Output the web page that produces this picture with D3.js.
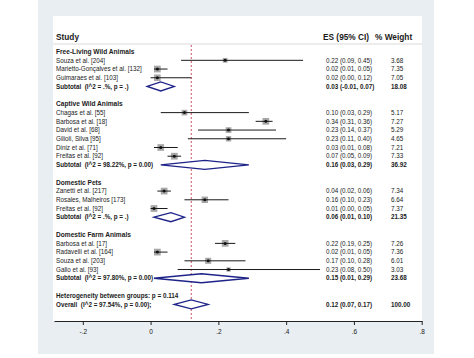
<!DOCTYPE html>
<html>
<head>
<meta charset="utf-8">
<script src="https://cdn.jsdelivr.net/npm/d3@7"></script>
<style>
  body { margin: 0; background: #fff; }
  svg text { font-family: 'Liberation Sans', Arial, Helvetica, sans-serif; fill: #1a1a1a; }
  .axis path, .axis line { stroke: #222; }
  .axis text { font-size: 6.5px; }
</style>
</head>
<body>
<div id="chart"></div>
<script>
// group headings
let groups = ['Free-Living Wild Animals', 'Captive Wild Animals', 'Domestic Pets', 'Domestic Farm Animals'];

// individual studies
let studies = [
  'Souza et al. [204]', 'Marietto-Gonçalves et al. [132]', 'Guimaraes et al. [103]',
  'Chagas et al. [55]', 'Barbosa et al. [18]', 'David et al. [68]', 'Gilioli, Silva [95]', 'Diniz et al. [71]', 'Freitas et al. [92]',
  'Zanetti et al. [217]', 'Rosales, Malheiros [173]', 'Freitas et al. [92]',
  'Barbosa et al. [17]', 'Radavelli et al. [164]', 'Souza et al. [203]', 'Gallo et al. [93]'
];
let studyGroup = [0, 0, 0, 1, 1, 1, 1, 1, 1, 2, 2, 2, 3, 3, 3, 3];
let es     = [0.22, 0.02, 0.02, 0.10, 0.34, 0.23, 0.23, 0.03, 0.07, 0.04, 0.16, 0.01, 0.22, 0.02, 0.17, 0.23];
let lo     = [0.09, 0.01, 0.00, 0.03, 0.31, 0.14, 0.11, 0.01, 0.05, 0.02, 0.10, 0.00, 0.19, 0.01, 0.10, 0.08];
let hi     = [0.45, 0.05, 0.12, 0.29, 0.36, 0.37, 0.40, 0.08, 0.09, 0.06, 0.23, 0.05, 0.25, 0.05, 0.28, 0.50];
let weight = [3.68, 7.35, 7.05, 5.17, 7.27, 5.29, 4.65, 7.21, 7.33, 7.34, 6.64, 7.37, 7.26, 7.36, 6.01, 3.03];

// subtotals per group
let subLabels = ['Subtotal  (I^2 = .%, p = .)', 'Subtotal  (I^2 = 98.22%, p = 0.00)', 'Subtotal  (I^2 = .%, p = .)', 'Subtotal  (I^2 = 97.80%, p = 0.00)'];
let subEs     = [0.03, 0.16, 0.06, 0.15];
let subLo     = [-0.01, 0.03, 0.01, 0.01];
let subHi     = [0.07, 0.29, 0.10, 0.29];
let subWeight = [18.08, 36.92, 21.35, 23.68];

// overall
let hetLabel = 'Heterogeneity between groups: p = 0.114';
let overallLabel = 'Overall  (I^2 = 97.54%, p = 0.00);';
let overallEs = [0.12, 0.07, 0.17];
let overallWeight = 100.00;

let xTicks = [-0.2, 0, 0.2, 0.4, 0.6, 0.8];

let width = 474, height = 358;

let svg = d3.select('#chart')
  .append('svg')
    .attr('width', width)
    .attr('height', height);

// graph region + plot region
svg.append('rect').attr('x', 38).attr('y', 0).attr('width', 396).attr('height', 354).attr('fill', '#e9eef2');
svg.append('rect').attr('x', 53).attr('y', 16).attr('width', 369).attr('height', 305).attr('fill', '#fff');

// build rows
let rows = [];
let r = 0;
groups.forEach(function (g, gi) {
  rows.push({ type: 'group', label: g, row: r++ });
  studies.forEach(function (s, i) {
    if (studyGroup[i] !== gi) return;
    rows.push({ type: 'study', label: s, es: es[i], lo: lo[i], hi: hi[i], w: weight[i], row: r++ });
  });
  rows.push({ type: 'sub', label: subLabels[gi], es: subEs[gi], lo: subLo[gi], hi: subHi[gi], w: subWeight[gi], row: r++ });
  r++;
});
rows.push({ type: 'het', label: hetLabel, row: r++ });
rows.push({ type: 'overall', label: overallLabel, es: overallEs[0], lo: overallEs[1], hi: overallEs[2], w: overallWeight, row: r++ });

let X = d3.scaleLinear().domain([-0.285, 0.8]).range([54, 421.7]);
let Y = d3.scaleLinear().domain([0, 29]).range([51.6, 304.4]);
let box = d3.scaleSqrt().domain([0, 7.27]).range([0, 6.7]);

// headers
svg.append('text').attr('x', 56).attr('y', 40).attr('font-size', '8.3px').attr('font-weight', 'bold').text('Study');
svg.append('text').attr('x', 323).attr('y', 40).attr('font-size', '8.3px').attr('font-weight', 'bold').text('ES (95% CI)');
svg.append('text').attr('x', 375).attr('y', 40).attr('font-size', '8.3px').attr('font-weight', 'bold').text('% Weight');
svg.append('line').attr('x1', 53).attr('x2', 422).attr('y1', 44).attr('y2', 44).attr('stroke', '#cfcfcf').attr('stroke-width', 0.8);

// overall effect line
svg.append('line')
  .attr('x1', X(overallEs[0])).attr('x2', X(overallEs[0]))
  .attr('y1', 45).attr('y2', 321)
  .attr('stroke', '#c8506a').attr('stroke-width', 1).attr('stroke-dasharray', '2,2');

let fmt = function (v) { return v.toFixed(2); };

// labels
svg.selectAll('.lab').data(rows).enter()
  .append('text')
    .attr('class', 'lab')
    .attr('x', 56)
    .attr('y', function (d) { return Y(d.row); })
    .attr('dy', '0.35em')
    .attr('font-size', function (d) { return d.type === 'group' ? '6.6px' : '6.3px'; })
    .attr('font-weight', function (d) { return d.type === 'study' ? 'normal' : 'bold'; })
    .attr('xml:space', 'preserve')
    .text(function (d) { return d.label; });

let est = rows.filter(function (d) { return d.es !== undefined; });

// ES column
svg.selectAll('.esv').data(est).enter()
  .append('text')
    .attr('x', 326)
    .attr('y', function (d) { return Y(d.row); })
    .attr('dy', '0.35em')
    .attr('font-size', '6.3px')
    .attr('font-weight', function (d) { return d.type === 'study' ? 'normal' : 'bold'; })
    .text(function (d) { return fmt(d.es) + ' (' + fmt(d.lo) + ', ' + fmt(d.hi) + ')'; });

// weight column
svg.selectAll('.wv').data(est).enter()
  .append('text')
    .attr('x', 391)
    .attr('y', function (d) { return Y(d.row); })
    .attr('dy', '0.35em')
    .attr('font-size', '6.3px')
    .attr('font-weight', function (d) { return d.type === 'study' ? 'normal' : 'bold'; })
    .text(function (d) { return fmt(d.w); });

let st = est.filter(function (d) { return d.type === 'study'; });

// boxes
svg.selectAll('.box').data(st).enter()
  .append('rect')
    .attr('x', function (d) { return X(d.es) - box(d.w) / 2; })
    .attr('y', function (d) { return Y(d.row) - box(d.w) / 2; })
    .attr('width', function (d) { return box(d.w); })
    .attr('height', function (d) { return box(d.w); })
    .attr('fill', '#a8a8a8');

// CI lines
svg.selectAll('.ci').data(st).enter()
  .append('line')
    .attr('x1', function (d) { return X(d.lo); })
    .attr('x2', function (d) { return X(d.hi); })
    .attr('y1', function (d) { return Y(d.row); })
    .attr('y2', function (d) { return Y(d.row); })
    .attr('stroke', '#1a1a1a').attr('stroke-width', 1);

// point markers
svg.selectAll('.pt').data(st).enter()
  .append('circle')
    .attr('cx', function (d) { return X(d.es); })
    .attr('cy', function (d) { return Y(d.row); })
    .attr('r', 1.5)
    .attr('fill', '#111');

// diamonds
let dm = est.filter(function (d) { return d.type !== 'study'; });
svg.selectAll('.dia').data(dm).enter()
  .append('path')
    .attr('d', function (d) {
      let y = Y(d.row);
      return 'M' + X(d.lo) + ',' + y + 'L' + X(d.es) + ',' + (y - 4.5) + 'L' + X(d.hi) + ',' + y + 'L' + X(d.es) + ',' + (y + 4.5) + 'Z';
    })
    .attr('fill', '#fff')
    .attr('stroke', '#1e2388')
    .attr('stroke-width', 1.3);

// X Axis
let xAxisCall = d3.axisBottom(X)
  .tickValues(xTicks)
  .tickSize(4)
  .tickSizeOuter(0)
  .tickFormat(function (d) { return d === 0 ? '0' : d.toFixed(1).replace('0.', '.'); });
svg.append('g')
  .attr('class', 'axis')
  .attr('transform', 'translate(0,321)')
  .call(xAxisCall)
  .call(function (g) { g.selectAll('text').attr('dy', '0.9em').attr('fill', '#1a1a1a'); });
</script>
</body>
</html>
